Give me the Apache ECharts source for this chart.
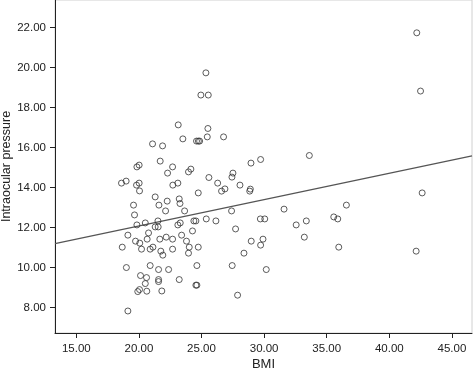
<!DOCTYPE html>
<html><head><meta charset="utf-8">
<script src="https://cdn.jsdelivr.net/npm/echarts@6/dist/echarts.min.js"></script>
<style>html,body{margin:0;padding:0;background:#fff}#c{width:474px;height:372px}</style>
</head><body><div id="c"></div>
<script>
const bmi = [42.19,42.49,42.62,42.14,25.35,24.95,25.54,23.14,25.51,25.46,23.51,26.76,24.6,24.75,24.85,21.09,21.89,33.61,29.72,28.95,21.70,22.69,19.84,20.02,24.15,23.96,22.29,27.51,27.43,25.59,18.61,18.98,20.02,19.81,23.11,22.71,26.29,28.07,28.90,26.87,26.60,28.85,20.05,24.74,21.30,23.22,23.28,22.26,21.60,19.57,36.57,23.65,22.13,27.40,31.59,19.65,35.56,35.88,25.38,26.15,24.39,24.55,29.70,30.05,33.37,23.30,23.11,21.52,20.51,19.84,32.56,21.30,21.54,27.72,24.28,20.77,19.12,23.41,33.21,22.18,20.66,21.67,22.69,29.91,19.73,20.07,23.80,28.97,29.72,18.67,21.12,20.90,20.21,22.69,24.02,24.74,35.96,21.75,21.91,23.96,28.39,20.90,24.63,27.45,19.00,21.57,22.37,30.17,20.13,20.61,21.57,23.22,21.57,20.51,24.63,24.55,20.05,19.91,20.63,21.83,27.88,19.12];
const iop = [21.73,18.82,13.73,10.82,19.73,18.62,18.62,17.13,16.95,16.53,16.43,16.53,16.32,16.32,16.32,16.18,16.08,15.60,15.40,15.22,15.32,15.03,15.03,15.12,14.92,14.78,14.72,14.72,14.52,14.50,14.22,14.32,14.22,14.12,14.22,14.12,14.22,14.12,13.92,13.93,13.82,13.82,13.83,13.73,13.53,13.43,13.20,13.32,13.12,13.12,13.12,12.83,12.83,12.83,12.92,12.63,12.53,12.43,12.43,12.33,12.33,12.33,12.43,12.43,12.33,12.23,12.13,12.33,12.23,12.13,12.13,12.03,12.03,11.93,11.83,11.73,11.62,11.62,11.52,11.52,11.42,11.42,11.42,11.42,11.32,11.22,11.32,11.32,11.12,11.02,11.02,10.92,10.92,10.92,11.02,11.02,11.02,10.82,10.62,10.72,10.72,10.10,10.10,10.10,10.00,9.90,9.90,9.90,9.60,9.50,9.40,9.40,9.30,9.20,9.12,9.12,8.90,8.80,8.82,8.83,8.62,7.83];
const fitX = [13.3, 46.6];
const fitY = [11.2, 15.58];
const xTicks = [15,20,25,30,35,40,45];
const yTicks = [8,10,12,14,16,18,20,22];

const pts = bmi.map((x,i)=>[x, iop[i]]);
const fit = fitX.map((x,i)=>[x, fitY[i]]);
const chart = echarts.init(document.getElementById('c'), null, {renderer:'canvas'});
const font = 'Liberation Sans, Arial, sans-serif';
chart.setOption({
  animation:false,
  grid:{left:55, right:2, top:0, bottom:39, show:true, borderColor:'#d0d0d0', borderWidth:1,
    containLabel:false, outerBoundsMode:'none'},
  xAxis:{type:'value', min:13.3, max:46.6, interval:5,
    name:'BMI', nameLocation:'middle', nameGap:25, nameMoveOverlap:false,
    nameTextStyle:{fontFamily:font, fontSize:13, color:'#222'},
    axisLine:{show:true, onZero:false, lineStyle:{color:'#222', width:1}},
    axisTick:{show:true, length:5, lineStyle:{color:'#222'}, customValues:xTicks},
    axisLabel:{fontFamily:font, fontSize:11.5, color:'#222', margin:10, customValues:xTicks,
      formatter:v=>v.toFixed(2)},
    splitLine:{show:false}},
  yAxis:{type:'value', min:6.73, max:23.37, interval:2,
    name:'Intraocular pressure', nameLocation:'middle', nameGap:42, nameRotate:90, nameMoveOverlap:false,
    nameTextStyle:{fontFamily:font, fontSize:12.5, color:'#222'},
    axisLine:{show:true, onZero:false, lineStyle:{color:'#222', width:1}},
    axisTick:{show:true, length:5, lineStyle:{color:'#222'}, customValues:yTicks},
    axisLabel:{fontFamily:font, fontSize:11.5, color:'#222', margin:9, customValues:yTicks,
      formatter:v=>v.toFixed(2)},
    splitLine:{show:false}},
  series:[
    {type:'line', data:fit, symbol:'none', lineStyle:{color:'#555', width:1.2}, silent:true, z:1},
    {type:'scatter', data:pts, symbol:'circle', symbolSize:6,
      itemStyle:{color:'rgba(255,255,255,0)', borderColor:'#333', borderWidth:1}, z:2}
  ]
});
</script></body></html>
